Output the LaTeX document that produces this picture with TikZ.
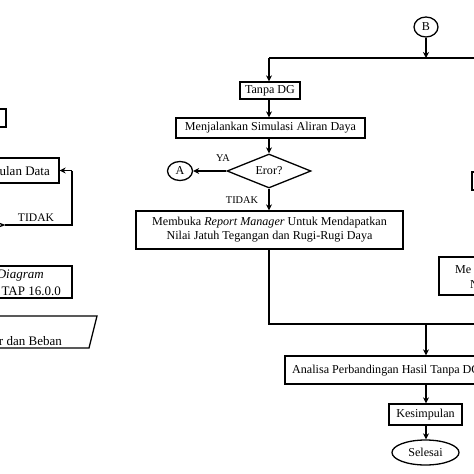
\documentclass[tikz,border=0pt]{standalone}
\usepackage{fontspec}
\setmainfont{Liberation Serif}
\usetikzlibrary{shapes.geometric,arrows.meta}
\begin{document}
\begin{tikzpicture}[x=1pt,y=-1pt,
  every node/.style={font=\fontsize{12.1}{13.8}\selectfont},
  box/.style={draw,line width=1.3pt,rectangle,inner sep=0pt},
  ell/.style={draw,line width=1.3pt,ellipse,inner sep=0pt},
  dia/.style={draw,line width=1.3pt,diamond,inner sep=0pt,aspect=2.47},
  lbl/.style={inner sep=0pt,font=\fontsize{10.3}{12}\selectfont},
  txt/.style={inner sep=0pt},
  bigtxt/.style={inner sep=0pt,font=\fontsize{13}{15}\selectfont},
  con/.style={line width=1.3pt},
  arr/.style={line width=1.3pt,-{Stealth[length=6pt,width=6pt]}}]
\useasboundingbox[fill=white] (0,0) rectangle (474,474);

% ---- left (cut off) column ----
\node[box,minimum width=80pt,minimum height=18pt] (bx0) at (-34,118) {};
\node[box,minimum width=120pt,minimum height=25pt] (bxdata) at (-1,170.5) {};
\node[bigtxt,anchor=base east] (tdata) at (50,175.5) {ulan Data};
\node[dia,minimum width=90pt,minimum height=34pt] (dL) at (-41,225) {};
\node[lbl,anchor=base,font=\fontsize{11.6}{13}\selectfont] (tidakL) at (36,221) {TIDAK};
\coordinate (cL1) at (72,225);
\coordinate (cL2) at (72,170.5);
\draw[con] (dL.east) -- (cL1) -- (cL2);
\draw[arr] (cL2) -- (bxdata.east);

\node[box,minimum width=140pt,minimum height=32pt] (bxdiag) at (2,282) {};
\node[bigtxt,anchor=base east] (tdiag1) at (44,278) {\textit{Diagram}};
\node[bigtxt,anchor=base east] (tdiag2) at (61,295) {TAP 16.0.0};
\draw[line width=1.3pt] (-20,316) -- (97,316) -- (89,348) -- (-20,348) -- cycle;
\node[bigtxt,anchor=base east] (tbeban) at (62,345) {r dan Beban};

% ---- right column ----
\node[ell,minimum width=24pt,minimum height=20pt] (B) at (426,27) {B};
\coordinate (jB) at (426,58);
\coordinate (jL) at (269,58);
\coordinate (jR) at (480,58);
\draw[arr] (B) -- (jB);
\draw[con] (jL) -- (jR);

\node[box,minimum width=60pt,minimum height=17pt] (tanpa) at (270,90.5) {Tanpa DG};
\draw[arr] (jL) -- (tanpa.north -| jL);

\node[box,minimum width=189pt,minimum height=20pt] (sim) at (270.5,128) {Menjalankan Simulasi Aliran Daya};
\draw[arr] (tanpa.south -| jL) -- (sim.north -| jL);

\node[dia,minimum width=84pt,minimum height=34pt] (eror) at (269,171) {Eror?};
\draw[arr] (sim.south -| jL) -- (eror.north);

\node[ell,minimum width=25pt,minimum height=19pt] (A) at (180,171) {A};
\draw[arr] (eror.west) -- (A.east);
\node[lbl,anchor=base] (ya) at (223,161) {YA};

\node[box,minimum width=267pt,minimum height=38pt,align=center] (rep) at (269.5,230)
  {Membuka \textit{Report Manager} Untuk Mendapatkan\\Nilai Jatuh Tegangan dan Rugi-Rugi Daya};
\draw[arr] (eror.south) -- (rep.north -| eror.south);
\node[lbl,anchor=base] (tidakR) at (242,203) {TIDAK};

\node[box,minimum width=40pt,minimum height=18pt] (bxR1) at (492,181) {};
\node[box,minimum width=80pt,minimum height=38pt] (bxR2) at (479,276) {};
\node[txt,anchor=base west] (tme) at (455,273) {Me};
\node[txt,anchor=base west] (tn) at (470,288) {N};

\coordinate (m1) at (269,324);
\coordinate (m2) at (426,324);
\coordinate (m3) at (480,324);
\draw[con] (rep.south -| m1) -- (m1) -- (m3);

\node[box,minimum width=220pt,minimum height=28pt] (ana) at (395,370) {};
\node[txt,anchor=west] (tana) at (292,371) {Analisa Perbandingan Hasil Tanpa DG};
\draw[arr] (m2) -- (ana.north -| m2);

\node[box,minimum width=73pt,minimum height=21pt] (kes) at (425.5,414.5) {Kesimpulan};
\draw[arr] (ana.south -| m2) -- (kes.north -| m2);

\node[ell,minimum width=67pt,minimum height=25pt] (sel) at (425.5,452.5) {Selesai};
\draw[arr] (kes.south -| m2) -- (sel.north -| m2);
\end{tikzpicture}
\end{document}
